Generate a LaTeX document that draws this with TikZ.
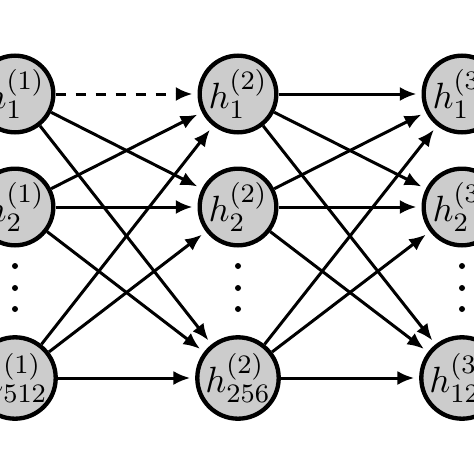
\documentclass[tikz,border=0pt]{standalone}
\usetikzlibrary{arrows.meta,positioning}
\tikzset{
  unit/.style={circle, draw=black, line width=1.3pt, fill=gray!40, minimum size=23pt, inner sep=0pt, font=\fontsize{11}{13}\selectfont},
  link/.style={-{Latex[length=5pt,width=4.2pt]}, line width=0.9pt, black, shorten >=1.5pt}
}
\begin{document}
\begin{tikzpicture}[x=0.3pt,y=-0.3pt]
  \useasboundingbox (0,0) rectangle (474,474);
  % the three layers
  \foreach \col/\x/\l/\n in {a/15/1/512, b/238/2/256, c/462/3/128}{
    \node[unit] (\col1) at (\x,94) {$h_1^{(\l)}$};
    \node[unit] (\col2) at (\x,207) {$h_2^{(\l)}$};
    \node[unit] (\col3) at (\x,378) {$h_{\n}^{(\l)}$};
    \foreach \y in {266,288,309}{\fill (\x,\y) circle (3);}
  }
  % connections
  \foreach \i/\j in {1/2,1/3,2/1,2/2,2/3,3/1,3/2,3/3}{\draw[link] (a\i) -- (b\j);}
  \draw[link,dashed] (a1) -- (b1);
  \foreach \i in {1,2,3}{\foreach \j in {1,2,3}{\draw[link] (b\i) -- (c\j);}}
\end{tikzpicture}
\end{document}
